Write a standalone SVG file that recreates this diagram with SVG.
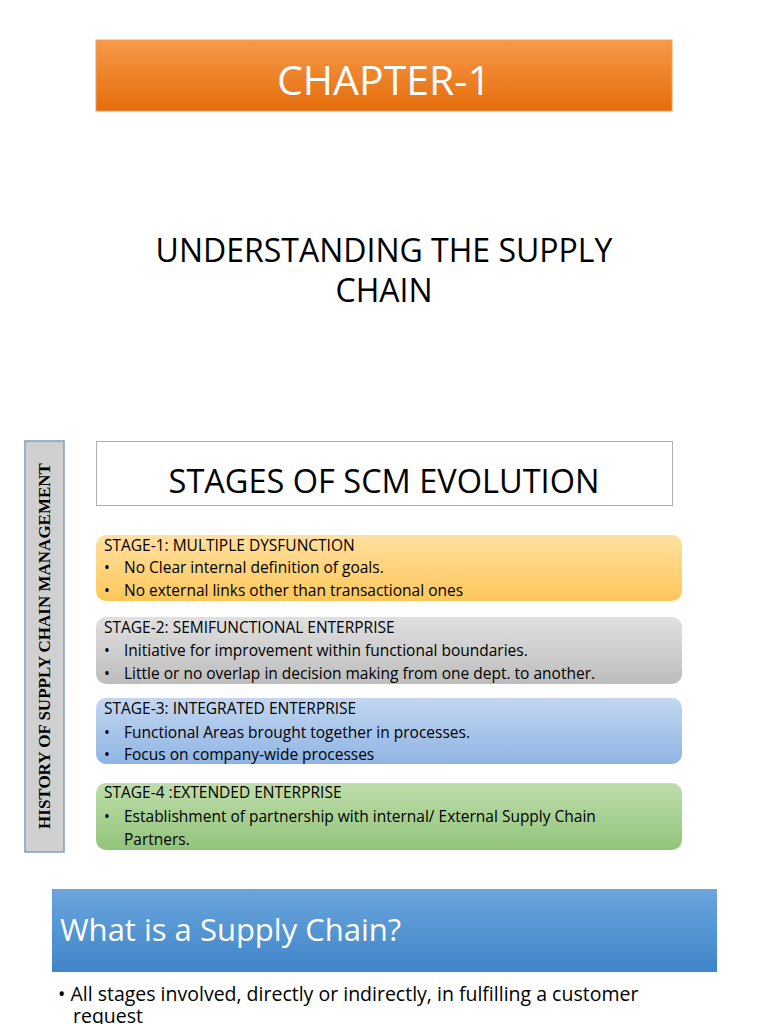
<svg xmlns="http://www.w3.org/2000/svg" width="768" height="1024" viewBox="0 0 768 1024">
<defs>
<linearGradient id="go" x1="0" y1="0" x2="0" y2="1"><stop offset="0" stop-color="#f89a4a"/><stop offset="1" stop-color="#e46c0a"/></linearGradient>
<linearGradient id="gb" x1="0" y1="0" x2="0" y2="1"><stop offset="0" stop-color="#6aa5dc"/><stop offset="1" stop-color="#3f85c9"/></linearGradient>
<linearGradient id="g1" x1="0" y1="0" x2="0" y2="1"><stop offset="0" stop-color="#ffe0a0"/><stop offset="1" stop-color="#ffc75a"/></linearGradient>
<linearGradient id="g2" x1="0" y1="0" x2="0" y2="1"><stop offset="0" stop-color="#e0e0e0"/><stop offset="1" stop-color="#bdbdbd"/></linearGradient>
<linearGradient id="g3" x1="0" y1="0" x2="0" y2="1"><stop offset="0" stop-color="#c3d7f1"/><stop offset="1" stop-color="#8fb4e3"/></linearGradient>
<linearGradient id="g4" x1="0" y1="0" x2="0" y2="1"><stop offset="0" stop-color="#c0ddac"/><stop offset="1" stop-color="#92c47a"/></linearGradient>
</defs>
<style>
.t{font-family:"Open Sans","Liberation Sans",sans-serif;fill:#000}
.s{font-family:"Open Sans","Liberation Sans",sans-serif;font-size:15.5px;fill:#000}
</style>
<rect width="768" height="1024" fill="#fff"/>
<g id="chapter">
<rect x="96" y="40" width="576" height="71" fill="url(#go)" stroke="#f0a060" stroke-width="1"/>
<text x="384" y="95" text-anchor="middle" class="t" style="font-size:41px;fill:#fff">CHAPTER-1</text>
</g>
<g id="title">
<text x="384" y="262" text-anchor="middle" class="t" style="font-size:32px">UNDERSTANDING THE SUPPLY</text>
<text x="384" y="302" text-anchor="middle" class="t" style="font-size:32px">CHAIN</text>
</g>
<g id="history">
<rect x="25" y="441" width="39" height="411" fill="#d0d0d0" stroke="#7f9fc0" stroke-width="1.5"/>
<text transform="translate(50,646) rotate(-90)" text-anchor="middle" style="font-family:'Liberation Serif',serif;font-weight:bold;font-size:17px;fill:#000">HISTORY OF SUPPLY CHAIN MANAGEMENT</text>
</g>
<g id="stages-title">
<rect x="96.5" y="441.5" width="576" height="64" fill="#fff" stroke="#b0b0b0"/>
<text x="384" y="493" text-anchor="middle" class="t" style="font-size:32.5px">STAGES OF SCM EVOLUTION</text>
</g>
<g id="stage1">
<rect x="96" y="535" width="586" height="66" rx="10" fill="url(#g1)"/>
<text x="104" y="551" class="s">STAGE-1: MULTIPLE DYSFUNCTION</text>
<text x="104" y="573" class="s">•</text><text x="124" y="573" class="s">No Clear internal definition of goals.</text>
<text x="104" y="596" class="s">•</text><text x="124" y="596" class="s">No external links other than transactional ones</text>
</g>
<g id="stage2">
<rect x="96" y="617" width="586" height="67" rx="10" fill="url(#g2)"/>
<text x="104" y="633" class="s">STAGE-2: SEMIFUNCTIONAL ENTERPRISE</text>
<text x="104" y="656" class="s">•</text><text x="124" y="656" class="s">Initiative for improvement within functional boundaries.</text>
<text x="104" y="679" class="s">•</text><text x="124" y="679" class="s">Little or no overlap in decision making from one dept. to another.</text>
</g>
<g id="stage3">
<rect x="96" y="698" width="586" height="66" rx="10" fill="url(#g3)"/>
<text x="104" y="714" class="s">STAGE-3: INTEGRATED ENTERPRISE</text>
<text x="104" y="738" class="s">•</text><text x="124" y="738" class="s">Functional Areas brought together in processes.</text>
<text x="104" y="760" class="s">•</text><text x="124" y="760" class="s">Focus on company-wide processes</text>
</g>
<g id="stage4">
<rect x="96" y="783" width="586" height="67" rx="10" fill="url(#g4)"/>
<text x="104" y="798" class="s">STAGE-4 :EXTENDED ENTERPRISE</text>
<text x="104" y="822" class="s">•</text><text x="124" y="822" class="s">Establishment of partnership with internal/ External Supply Chain</text>
<text x="124" y="845" class="s">Partners.</text>
</g>
<g id="what">
<rect x="52" y="889" width="665" height="83" fill="url(#gb)"/>
<text x="60" y="941" class="t" style="font-size:31px;fill:#fff">What is a Supply Chain?</text>
</g>
<g id="bullet">
<text x="58" y="1001" class="t" style="font-size:19.5px">• All stages involved, directly or indirectly, in fulfilling a customer</text>
<text x="73" y="1023" class="t" style="font-size:19.5px">request</text>
</g>
<g id="connectors"/>
</svg>
